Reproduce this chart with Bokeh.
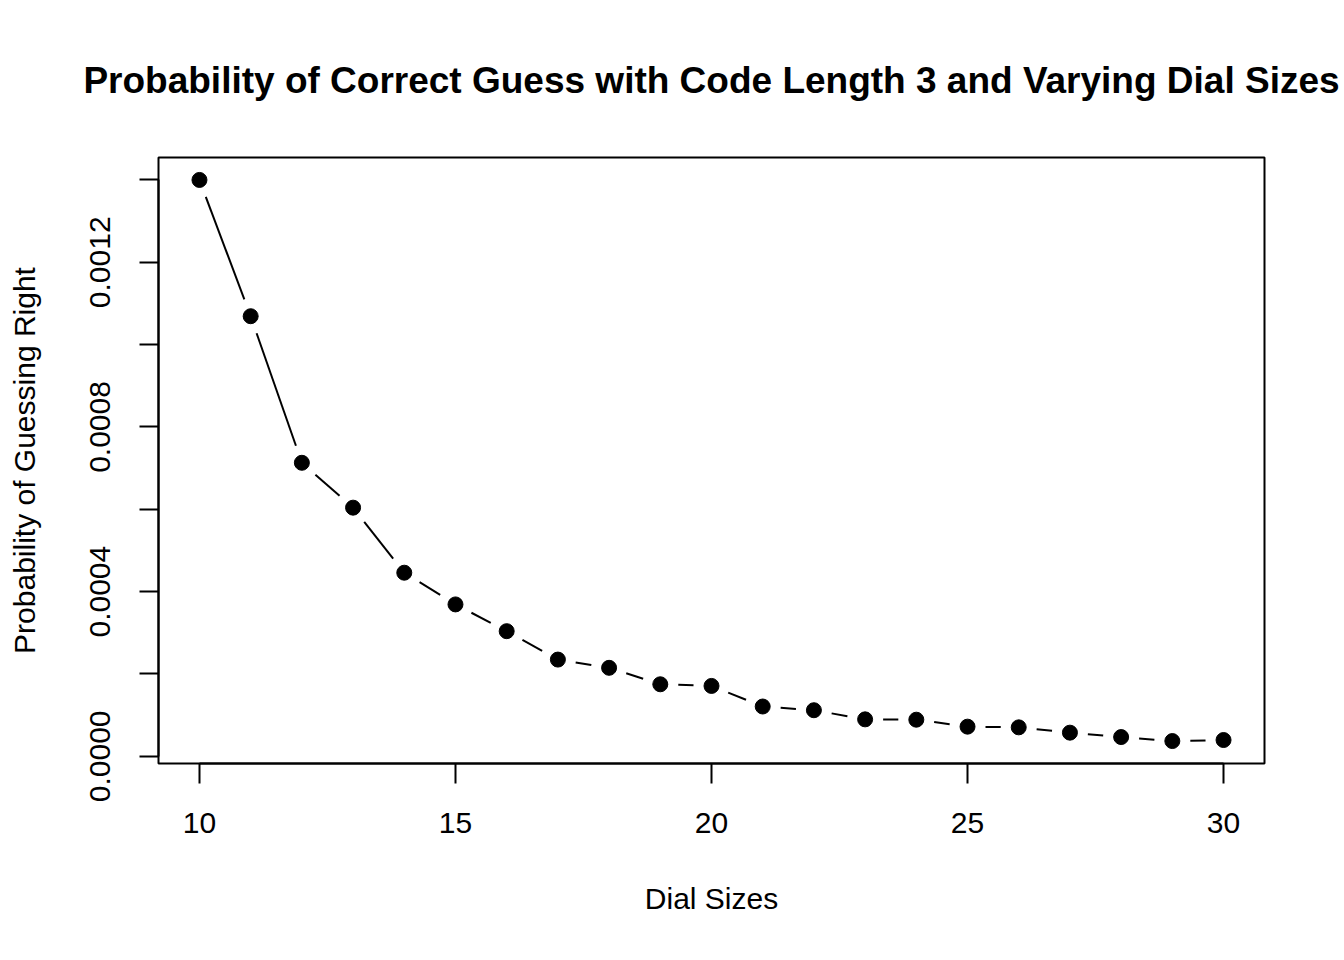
from bokeh.plotting import figure
from bokeh.models import Range1d, FixedTicker, CustomJSTickFormatter
from bokeh.embed import file_html
from bokeh.resources import INLINE
import math

dial_sizes = list(range(10, 31))
prob_right = [0.001400, 0.001069, 0.000713, 0.000604, 0.000446, 0.000369,
              0.000304, 0.000235, 0.000215, 0.000175, 0.000171, 0.000121,
              0.000112, 0.0000898, 0.0000890, 0.0000721, 0.0000704,
              0.0000575, 0.0000468, 0.0000371, 0.0000396]
x_ticks = [10, 15, 20, 25, 30]
y_ticks = [0.0, 0.0002, 0.0004, 0.0006, 0.0008, 0.0010, 0.0012, 0.0014]
y_labelled = [0.0, 0.0004, 0.0008, 0.0012]

W, H = 1344, 960
left, right, top, bottom = 158, 80, 157, 197
font = "Liberation Sans"

# R style ranges: data range padded by 4% on each side
xr = max(dial_sizes) - min(dial_sizes)
x0, x1 = min(dial_sizes) - 0.04 * xr, max(dial_sizes) + 0.04 * xr
yr = max(prob_right) - min(prob_right)
y0, y1 = min(prob_right) - 0.04 * yr, max(prob_right) + 0.04 * yr

p = figure(width=W, height=H, output_backend="svg", toolbar_location=None,
           x_range=Range1d(x0, x1), y_range=Range1d(y0, y1),
           min_border_left=left, min_border_right=right,
           min_border_top=top, min_border_bottom=bottom,
           title="Probability of Correct Guess with Code Length 3 and Varying Dial Sizes",
           x_axis_label="Dial Sizes", y_axis_label="Probability of Guessing Right")

p.title.text_font = font
p.title.text_font_size = "37px"
p.title.text_font_style = "bold"
p.title.text_color = "black"
p.title.align = "center"
p.title.standoff = 114

p.grid.visible = False
p.outline_line_color = "black"
p.outline_line_width = 2
p.background_fill_color = "white"
p.border_fill_color = "white"

for ax in (p.xaxis[0], p.yaxis[0]):
    ax.axis_line_width = 2
    ax.major_tick_line_width = 2
    ax.major_tick_in = 0
    ax.minor_tick_line_color = None
    ax.major_label_text_font = font
    ax.major_label_text_font_size = "30px"
    ax.major_label_text_color = "black"
    ax.axis_label_text_font = font
    ax.axis_label_text_font_size = "30px"
    ax.axis_label_text_font_style = "normal"
    ax.axis_label_text_color = "black"

p.xaxis.ticker = FixedTicker(ticks=x_ticks)
p.xaxis.bounds = (min(x_ticks), max(x_ticks))
p.xaxis.major_tick_out = 20
p.xaxis.major_label_standoff = 29
p.xaxis.axis_label_standoff = 46

p.yaxis.ticker = FixedTicker(ticks=y_ticks)
p.yaxis.bounds = (min(y_ticks), max(y_ticks))
p.yaxis.major_tick_out = 19
p.yaxis.major_label_orientation = "vertical"
p.yaxis.major_label_standoff = 29
p.yaxis.axis_label_standoff = 47
p.yaxis.formatter = CustomJSTickFormatter(args=dict(labelled=y_labelled), code="""
    for (const v of labelled) { if (Math.abs(tick - v) < 1e-9) return tick.toFixed(4); }
    return '';
""")

# type="b": segments with a gap around each point (gap in screen pixels)
sx = (W - left - right) / (x1 - x0)
sy = (H - top - bottom) / (y1 - y0)
gap = 18
xs0, ys0, xs1, ys1 = [], [], [], []
for i in range(len(dial_sizes) - 1):
    xa, ya = dial_sizes[i], prob_right[i]
    xb, yb = dial_sizes[i + 1], prob_right[i + 1]
    L = math.hypot((xb - xa) * sx, (yb - ya) * sy)
    if L <= 2 * gap:
        continue
    f = gap / L
    xs0.append(xa + (xb - xa) * f)
    ys0.append(ya + (yb - ya) * f)
    xs1.append(xb - (xb - xa) * f)
    ys1.append(yb - (yb - ya) * f)

p.segment(xs0, ys0, xs1, ys1, line_color="black", line_width=2)
p.scatter(dial_sizes, prob_right, size=15, fill_color="black", line_color="black")

open("out.html", "w").write(file_html(p, INLINE))
